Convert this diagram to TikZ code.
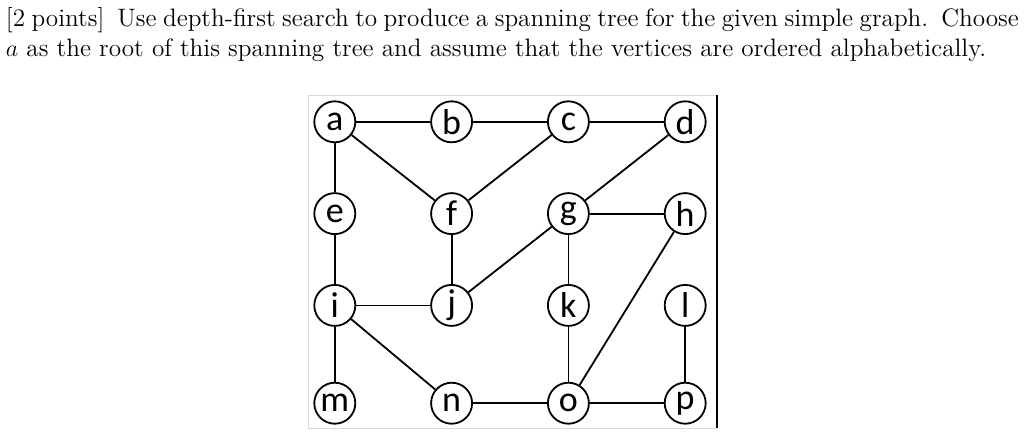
\documentclass[tikz,border=0pt]{standalone}
\usepackage{fontspec}
\newfontfamily\vfont{Carlito}
\usetikzlibrary{matrix}

\tikzset{v/.style = {circle, draw, line width = 0.9pt, minimum size = 20.5pt, inner sep = 0pt,
  anchor = center, font = \vfont\fontsize{18}{18}\selectfont}}

\begin{document}
\begin{tikzpicture} [x = 0.5pt, y = -0.5pt, line width = 0.9pt]
\useasboundingbox (0,0) rectangle (1024,446);
\node (q) [anchor = north west, inner sep = 0pt, text width = 506.5pt, align = justify,
  font = \fontsize{12.6}{15}\selectfont] at (5,7) {[2 points]\ \ Use depth-first search to produce a spanning tree for the given simple graph.\ \ Choose\linebreak
$a$ as the root of this spanning tree and assume that the vertices are ordered alphabetically.};
\draw [black!15, line width = 0.5pt] (717,95) -- (308,95) -- (308,428) -- (717,428);
\draw (717,95) -- (717,428);
\matrix (grid) [matrix of nodes, column sep = 37pt, row sep = 24.5pt] at (510,262.5) {
\node[v](a){a}; & \node[v](b){b}; & \node[v](c){c}; & \node[v](d){d}; \\
\node[v](e){e}; & \node[v](f){f}; & \node[v](g){g}; & \node[v](h){h}; \\
\node[v](i){i}; & \node[v](j){j}; & \node[v](k){k}; & \node[v](l){l}; \\[3pt]
\node[v](m){m}; & \node[v](n){n}; & \node[v](o){o}; & \node[v](p){p}; \\
};
\draw (a) -- (b);
\draw (b) -- (c);
\draw (c) -- (d);
\draw (a) -- (e);
\draw (a) -- (f);
\draw (c) -- (f);
\draw (d) -- (g);
\draw (g) -- (h);
\draw (e) -- (i);
\draw (f) -- (j);
\draw (j) -- (g);
\draw (g) -- (k);
\draw (h) -- (o);
\draw (i) -- (j);
\draw (i) -- (m);
\draw (i) -- (n);
\draw (k) -- (o);
\draw (l) -- (p);
\draw (n) -- (o);
\draw (o) -- (p);
\end{tikzpicture}
\end{document}
